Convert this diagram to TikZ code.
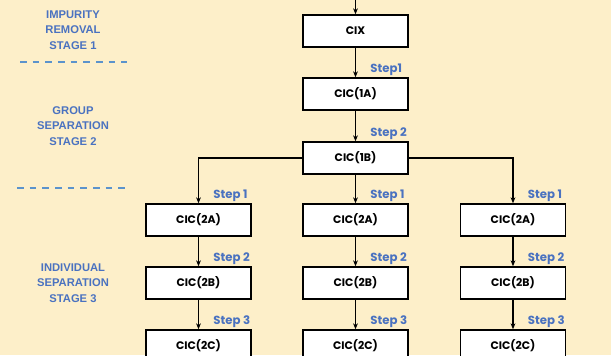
\documentclass[tikz,border=0pt]{standalone}
\usepackage{fontspec}
\newfontfamily\arialf{Liberation Sans}
\newfontfamily\popfont{Poppins}
\usetikzlibrary{arrows.meta}
\definecolor{bgc}{HTML}{FDEFC9}
\definecolor{lblue}{HTML}{4A72C0}
\definecolor{dblue}{HTML}{5B93CC}
\tikzset{
  box/.style={draw=black, fill=white, line width=1.1pt, minimum width=78.75pt, minimum height=24pt, inner sep=0pt, font=\popfont\bfseries\fontsize{8.2}{9}\selectfont},
  conn/.style={line width=1.1pt, -{Stealth[length=4.5pt,width=3.6pt]}},
  steplbl/.style={anchor=south west, inner sep=0pt, text=lblue, font=\popfont\bfseries\fontsize{8.8}{10}\selectfont},
  stagelbl/.style={align=center, text=lblue, font=\arialf\bfseries\fontsize{8.4}{11.5}\selectfont},
  sep/.style={dblue, line width=1.1pt, dash pattern=on 5pt off 4.5pt}
}
\begin{document}
\begin{tikzpicture}[x=0.75pt,y=-0.75pt]
\path[fill=bgc] (0,0) rectangle (611,355);
\useasboundingbox (0,0) rectangle (611,355);
% stage labels
\node[stagelbl] (s1) at (73,30) {IMPURITY\\REMOVAL\\STAGE 1};
\node[stagelbl] (s2) at (73,126) {GROUP\\SEPARATION\\STAGE 2};
\node[stagelbl] (s3) at (73,283) {INDIVIDUAL\\SEPARATION\\STAGE 3};
\coordinate (d1a) at (20,62); \coordinate (d1b) at (127,62);
\coordinate (d2a) at (17,188); \coordinate (d2b) at (127,188);
\draw[sep] (d1a) -- (d1b);
\draw[sep] (d2a) -- (d2b);
% boxes
\node[box] (cix) at (355.5,31) {CIX};
\node[box] (c1a) at (355.5,94) {CIC(1A)};
\node[box] (c1b) at (355.5,158) {CIC(1B)};
\node[box] (l2a) at (198.5,220) {CIC(2A)};
\node[box] (m2a) at (355.5,220) {CIC(2A)};
\node[box] (r2a) at (513,220) {CIC(2A)};
\node[box] (l2b) at (198.5,283) {CIC(2B)};
\node[box] (m2b) at (355.5,283) {CIC(2B)};
\node[box] (r2b) at (513,283) {CIC(2B)};
\node[box] (l2c) at (198.5,346) {CIC(2C)};
\node[box] (m2c) at (355.5,346) {CIC(2C)};
\node[box] (r2c) at (513,346) {CIC(2C)};
% connectors
\coordinate (top) at (355.5,-2);
\draw[conn] (top) -- (cix);
\draw[conn] (cix) -- (c1a);
\draw[conn] (c1a) -- (c1b);
\draw[conn] (c1b) -- (m2a);
\draw[conn] (c1b.west) -| (l2a.north);
\draw[conn] (c1b.east) -| (r2a.north);
\foreach \c in {l,m,r}{
  \draw[conn] (\c2a) -- (\c2b);
  \draw[conn] (\c2b) -- (\c2c);
}
% step labels
\node[steplbl] (st1) at ([xshift=11pt,yshift=1pt]c1a.north) {Step1};
\node[steplbl] (st2) at ([xshift=11pt,yshift=1pt]c1b.north) {Step 2};
\foreach \c in {l,m,r}{
  \node[steplbl] (\c st1) at ([xshift=11pt,yshift=1pt]\c2a.north) {Step 1};
  \node[steplbl] (\c st2) at ([xshift=11pt,yshift=1pt]\c2b.north) {Step 2};
  \node[steplbl] (\c st3) at ([xshift=11pt,yshift=1pt]\c2c.north) {Step 3};
}
\end{tikzpicture}
\end{document}
